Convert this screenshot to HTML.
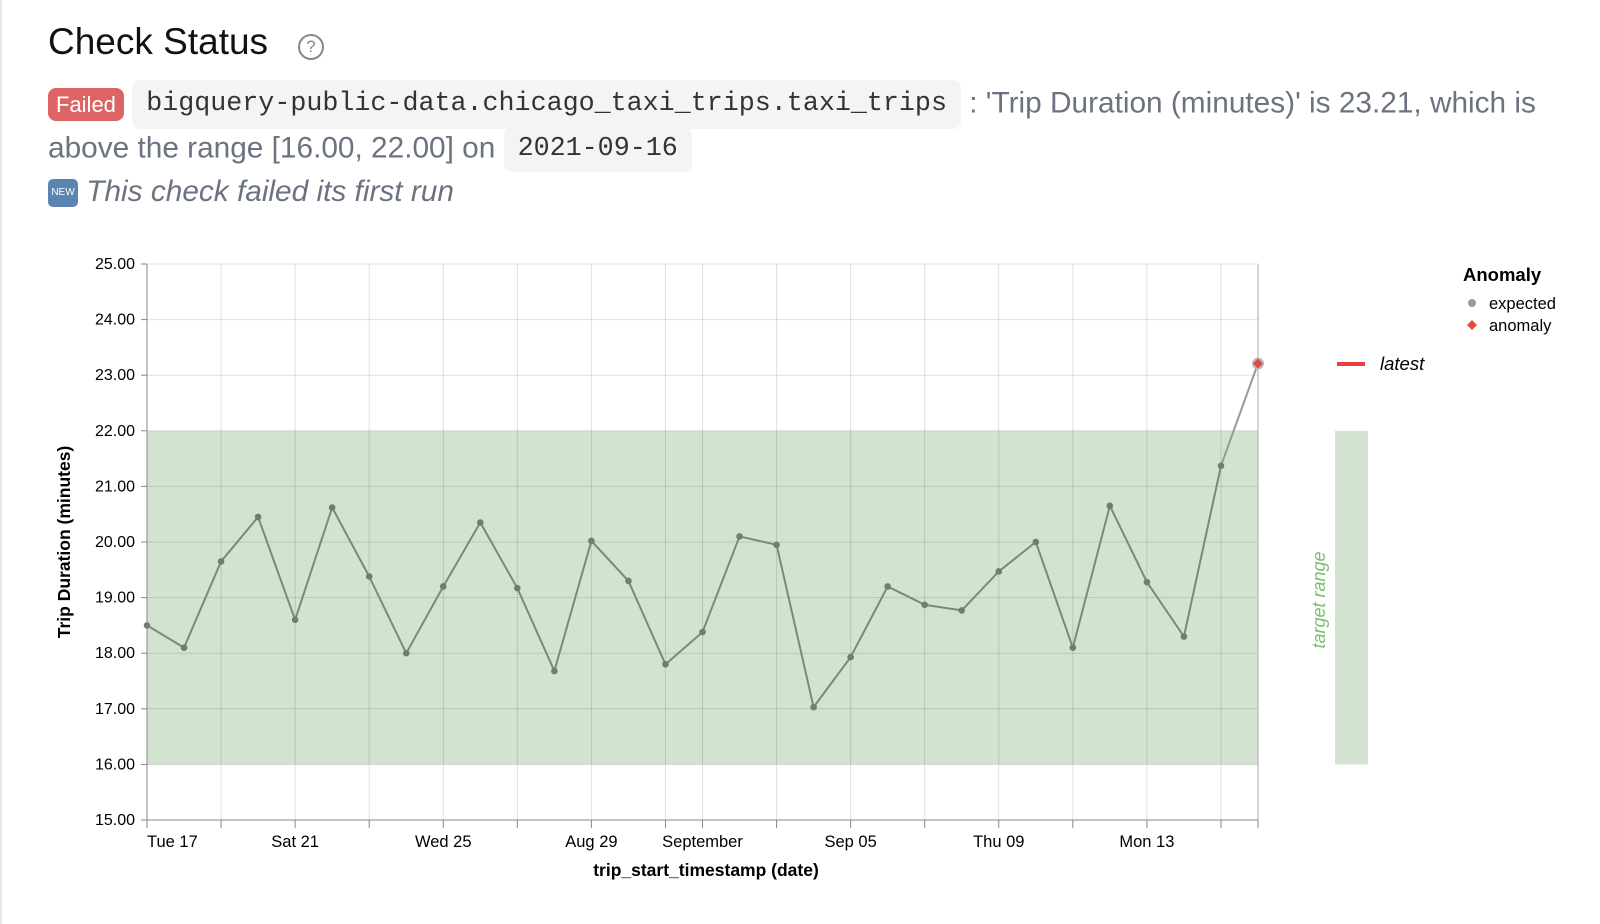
<!DOCTYPE html>
<html><head><meta charset="utf-8"><style>
body{margin:0;width:1600px;height:924px;background:#fff;overflow:hidden;font-family:"Liberation Sans",sans-serif;}
.l{position:absolute;left:0;top:0;width:2px;height:924px;background:#e8e8e8}
.t{position:absolute;left:48px;top:21px;font-size:37px;color:#111;}
.q{position:absolute;left:298px;top:34px;width:22px;height:22px;border:2px solid #888;border-radius:50%;color:#888;font-size:17px;text-align:center;line-height:22px}
.ln{position:absolute;left:48px;font-size:29.8px;color:#6b7280;white-space:nowrap}
.bad{display:inline-block;background:#dc6464;color:#fff;border-radius:8px;padding:0 8px;font-size:22px;height:33px;line-height:33px;vertical-align:middle}
.code{display:inline-block;background:#f4f4f4;border-radius:8px;padding:0 14px;font-family:"Liberation Mono",monospace;color:#333;font-size:26.7px;height:49px;line-height:49px;vertical-align:middle}
.new{display:inline-block;width:30px;height:28px;background:#5a85b0;border-radius:5px;color:#fff;font-size:10px;line-height:28px;text-align:center;vertical-align:middle;font-style:normal}
</style></head><body>
<div class="l"></div>
<div class="t">Check Status</div><div class="q">?</div>
<div class="ln" style="top:80px"><span class="bad">Failed</span> <span class="code">bigquery-public-data.chicago_taxi_trips.taxi_trips</span> : 'Trip Duration (minutes)' is 23.21, which is</div>
<div class="ln" style="top:127px">above the range [16.00, 22.00] on <span class="code" style="height:45px;line-height:45px">2021-09-16</span></div>
<div class="ln" style="top:175px;font-style:italic"><span class="new">NEW</span> This check failed its first run</div>
<svg width="1600" height="924" style="position:absolute;left:0;top:0" font-family="Liberation Sans, sans-serif">
<g id="g"></g>
</svg>
<script>
const L=147,R=1258,T=264,B=820,dx=(R-L)/30,Y=v=>T+(25-v)*(B-T)/10;
let s='';
s+=`<rect x="${L}" y="${Y(22)}" width="${R-L}" height="${Y(16)-Y(22)}" fill="#d2e4cf"/>`;
for(let v=15;v<=25;v++){s+=`<line x1="${L}" x2="${R}" y1="${Y(v)}" y2="${Y(v)}" stroke="#000" stroke-opacity="0.12"/>`;
s+=`<line x1="${L-6}" x2="${L}" y1="${Y(v)}" y2="${Y(v)}" stroke="#888"/>`;
s+=`<text x="${L-12}" y="${Y(v)+5}" text-anchor="end" font-size="16" fill="#000">${v.toFixed(2)}</text>`;}
const days=[0,2,4,6,8,10,12,14,15,17,19,21,23,25,27,29,30];
days.forEach(d=>{const x=L+d*dx;s+=`<line x1="${x}" x2="${x}" y1="${T}" y2="${B}" stroke="#000" stroke-opacity="0.12"/><line x1="${x}" x2="${x}" y1="${B}" y2="${B+8}" stroke="#888"/>`;});
[[0,'Tue 17'],[4,'Sat 21'],[8,'Wed 25'],[12,'Aug 29'],[15,'September'],[19,'Sep 05'],[23,'Thu 09'],[27,'Mon 13']].forEach(([d,t])=>{const x=L+d*dx;s+=`<text x="${x}" y="847" text-anchor="${d==0?'start':'middle'}" font-size="16.5">${t}</text>`;});
s+=`<line x1="${L}" x2="${L}" y1="${T}" y2="${B}" stroke="#888"/><line x1="${L}" x2="${R}" y1="${B}" y2="${B}" stroke="#888"/><line x1="${R}" x2="${R}" y1="${T}" y2="${B}" stroke="#aaa"/>`;
const d=[18.5,18.1,19.65,20.45,18.6,20.62,19.38,18.0,19.2,20.35,19.17,17.68,20.02,19.3,17.8,18.38,20.1,19.95,17.03,17.93,19.2,18.87,18.77,19.47,20.0,18.1,20.65,19.28,18.3,21.37,23.21];
s+=`<polyline points="${d.slice(0,30).map((v,i)=>(L+i*dx)+','+Y(v)).join(' ')}" fill="none" stroke="#7a8a78" stroke-width="2"/>`;
s+=`<line x1="${L+29*dx}" y1="${Y(21.37)}" x2="${R}" y2="${Y(23.21)}" stroke="#999" stroke-width="2"/>`;
d.slice(0,30).forEach((v,i)=>s+=`<circle cx="${L+i*dx}" cy="${Y(v)}" r="3.3" fill="#6f7f6d"/>`);
const ay=Y(23.21);
s+=`<circle cx="${R}" cy="${ay}" r="6" fill="#bbb"/><path d="M${R} ${ay-5}L${R+5} ${ay}L${R} ${ay+5}L${R-5} ${ay}Z" fill="#e04a3f"/>`;
s+=`<text x="70" y="542" transform="rotate(-90 70 542)" text-anchor="middle" font-size="17.5" font-weight="bold">Trip Duration (minutes)</text>`;
s+=`<text x="706" y="876" text-anchor="middle" font-size="17.5" font-weight="bold">trip_start_timestamp (date)</text>`;
s+=`<text x="1463" y="281" font-size="18.5" font-weight="bold">Anomaly</text>`;
s+=`<circle cx="1472" cy="303" r="4" fill="#999"/><text x="1489" y="309" font-size="16.5">expected</text>`;
s+=`<path d="M1472 320L1477 325L1472 330L1467 325Z" fill="#e04a3f"/><text x="1489" y="331" font-size="16.5">anomaly</text>`;
s+=`<line x1="1337" x2="1365" y1="364" y2="364" stroke="#e8403a" stroke-width="4"/><text x="1380" y="370" font-size="18.5" font-style="italic">latest</text>`;
s+=`<rect x="1335" y="${Y(22)}" width="33" height="${Y(16)-Y(22)}" fill="#d2e4cf"/>`;
s+=`<text x="1325" y="600" transform="rotate(-90 1325 600)" text-anchor="middle" font-size="18" font-style="italic" fill="#7bbd6f">target range</text>`;
document.getElementById('g').innerHTML=s;
</script>
</body></html>
